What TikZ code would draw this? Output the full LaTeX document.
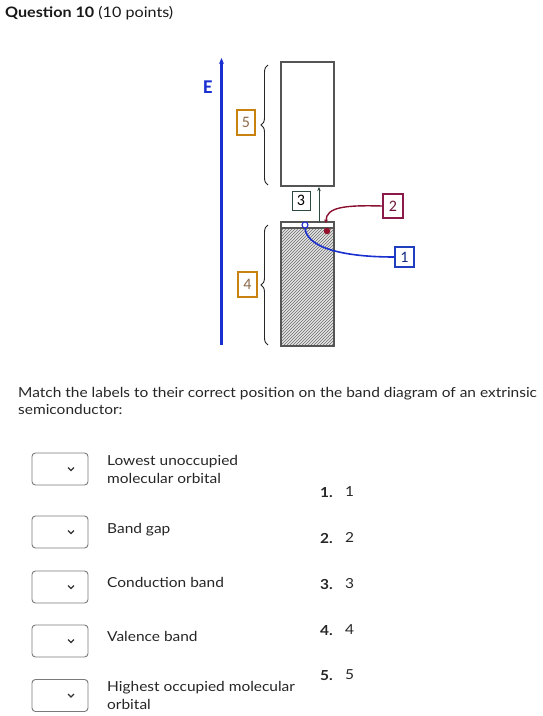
\documentclass[tikz,border=0pt]{standalone}
\usepackage{fontspec}
\setmainfont{Lato}[FakeStretch=1.12]
\newfontfamily\carlito{Carlito}
\usetikzlibrary{patterns,decorations.pathreplacing,arrows.meta,calc}
\definecolor{eblue}{HTML}{1A2FD0}
\definecolor{orng}{HTML}{C8820F}
\definecolor{orngtxt}{HTML}{8B6B4A}
\definecolor{slate}{HTML}{2E4A3E}
\definecolor{maroon}{HTML}{8B1A4B}
\definecolor{redc}{HTML}{8B1030}
\definecolor{bluebox}{HTML}{1F3FBF}
\definecolor{bandgray}{HTML}{555555}
\definecolor{ddgray}{HTML}{7A7A7A}
\tikzset{
  txt/.style={anchor=base west, inner sep=0pt, font=\fontsize{13.8}{16}\selectfont, text=black!85},
  num/.style={anchor=base west, inner sep=0pt, font=\fontsize{13.8}{16}\selectfont\bfseries, text=black!85},
  lbl/.style={draw, line width=1.3pt, fill=white, inner sep=0pt, font=\carlito\fontsize{16}{16}\selectfont},
  bandbox/.style={draw=bandgray, line width=1.8pt, inner sep=0pt, minimum width=53pt},
  ddbox/.style={draw=ddgray, line width=0.9pt, rounded corners=3.5pt, minimum width=56pt, minimum height=32pt, inner sep=0pt},
  chev/.style={line width=1.2pt, black!80},
  brc/.style={decorate, decoration={brace, amplitude=7pt}, line width=0.9pt, black!85}
}
\begin{document}
\begin{tikzpicture}[x=1pt,y=-1pt]
\useasboundingbox (0,0) rectangle (543,716);
\fill[white] (0,0) rectangle (543,716);
% title
\node[anchor=base west, inner sep=0pt, font=\fontsize{14.4}{17}\selectfont, text=black!90] (title) at (5,17) {\textbf{Question 10} (10 points)};
% energy axis
\coordinate (ebot) at (221.5,345);
\coordinate (etop) at (221.5,58);
\draw[eblue, line width=2.2pt, -{Stealth[length=6pt,width=5pt]}] (ebot) -- (etop);
\node[text=eblue, font=\carlito\bfseries\fontsize{19.5}{19}\selectfont, inner sep=0pt] (E) at (208,87) {E};
% conduction band
\node[bandbox, fill=white, minimum height=124pt] (cb) at (307.5,124) {};
% valence band
\fill[gray!20] (281,228) rectangle (334,346);
\fill[pattern=north east lines, pattern color=black!58] (281,228) rectangle (334,346);
\node[bandbox, minimum height=124pt] (vb) at (307.5,284) {};
\draw[bandgray, line width=1.6pt] (vb.west |- 0,228) -- (vb.east |- 0,228);
% braces
\draw[brc] (268,185) -- (268,65);
\draw[brc] (268,345) -- (268,225);
% labels
\node[lbl, draw=orng, text=orngtxt, minimum width=18pt, minimum height=25pt] (l5) at (246,122.5) {5};
\node[lbl, draw=orng, text=orngtxt, minimum width=19pt, minimum height=25pt] (l4) at (247.5,284.5) {4};
\node[lbl, draw=slate, text=black, line width=1pt, minimum width=18pt, minimum height=19pt] (l3) at (301,200.5) {3};
\node[lbl, draw=maroon, text=maroon!80!black, minimum width=20pt, minimum height=24pt] (l2) at (393,206) {2};
\node[lbl, draw=bluebox, text=bluebox!70!black, minimum width=19pt, minimum height=20pt] (l1) at (404.5,257) {1};
% band gap arrow
\coordinate (g1) at (319,222);
\coordinate (g2) at (319,187);
\draw[slate, line width=0.9pt, -{Stealth[length=4pt,width=3.5pt]}] (g1) -- (g2);
% label 2 connector and dot
\node[circle, fill=redc!90!red, inner sep=0pt, minimum size=6.5pt] (dot) at (327,231) {};
\coordinate (d2) at (326,223);
\draw[redc, line width=1.4pt, -{Stealth[length=3.5pt,width=4pt]}] (l2.west) .. controls (345,205) and (326,207) .. (d2);
% label 1 connector and hole
\node[circle, draw=eblue, fill=white, line width=1.1pt, inner sep=0pt, minimum size=6pt] (hole) at (305,225) {};
\draw[eblue, line width=1.6pt] (l1.west) .. controls (350,257) and (308,250) .. (hole.south);
% question text
\node[txt] (q1) at (18,397) {Match the labels to their correct position on the band diagram of an extrinsic};
\node[txt] (q2) at (18,414.5) {semiconductor:};
% dropdowns
\foreach \i/\y in {1/469, 2/532, 3/587, 4/641, 5/695.5}{
  \node[ddbox] (dd\i) at (60,\y) {};
  \draw[chev] ($(dd\i.center)+(8,-1.5)$) -- ($(dd\i.center)+(11,1.5)$) -- ($(dd\i.center)+(14,-1.5)$);
}
\node[txt] (a1) at (107,465) {Lowest unoccupied};
\node[txt] (a1b) at (107,483) {molecular orbital};
\node[txt] (a2) at (107,533) {Band gap};
\node[txt] (a3) at (107,587) {Conduction band};
\node[txt] (a4) at (107,641) {Valence band};
\node[txt] (a5) at (107,691) {Highest occupied molecular};
\node[txt] (a5b) at (107,709) {orbital};
% numbered list
\foreach \i/\y in {1/497, 2/543, 3/589, 4/635, 5/680}{
  \node[num] (n\i) at (320,\y) {\i.};
  \node[txt] (v\i) at (345,\y-1) {\i};
}
\end{tikzpicture}
\end{document}
